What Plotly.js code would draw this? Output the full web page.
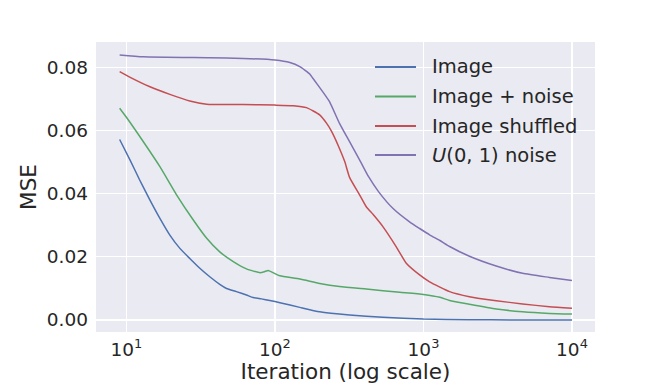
<!DOCTYPE html>
<html>
<head>
<meta charset="utf-8">
<script src="https://cdn.plot.ly/plotly-3.0.1.min.js"></script>
<style>html,body{margin:0;padding:0;background:#fff;}#chart{width:649px;height:390px;}</style>
</head>
<body>
<div id="chart"></div>
<script>
// Series names
const seriesNames = ["Image", "Image + noise", "Image shuffled", "<i>U</i>(0, 1) noise"];

// Image (blue)
const imageX = [9, 10.6, 12.3, 14.4, 16.8, 19.6, 22.9, 26.7, 31.2, 36.4, 42.5, 47.2, 55, 64.3, 71.3, 81, 92.3, 108, 147, 200, 318, 533, 1000, 2000, 4000, 10000];
const imageY = [0.0572, 0.0506, 0.0443, 0.0380, 0.0322, 0.0269, 0.0227, 0.0195, 0.0164, 0.0137, 0.0113, 0.0100, 0.0090, 0.0079, 0.0071, 0.0067, 0.0062, 0.0055, 0.0040, 0.0026, 0.0016, 0.0009, 0.0003, 0.0001, 0.0000, 0.0000];

// Image + noise (green)
const noiseX = [9, 10.3, 13, 16.8, 21.8, 28.2, 34.7, 42.5, 52.4, 64.3, 79.4, 85, 90, 100, 108, 147, 200, 272, 412, 692, 1000, 1290, 1500, 2040, 3090, 4650, 7050, 10000];
const noiseY = [0.0671, 0.0634, 0.0565, 0.0486, 0.0396, 0.0317, 0.0259, 0.0216, 0.0185, 0.0162, 0.0150, 0.0153, 0.0157, 0.0147, 0.0140, 0.0130, 0.0116, 0.0106, 0.0098, 0.0088, 0.0081, 0.0072, 0.0062, 0.0050, 0.0035, 0.0026, 0.0021, 0.0019];

// Image shuffled (red)
const shuffX = [9, 10.6, 14.4, 19.6, 26.7, 34.7, 61, 100, 133, 163, 200, 223, 241, 266, 295, 318, 372, 412, 457, 533, 656, 766, 942, 1100, 1500, 2040, 3090, 4650, 7050, 10000];
const shuffY = [0.0787, 0.0769, 0.0739, 0.0715, 0.0694, 0.0684, 0.0683, 0.0681, 0.0679, 0.0673, 0.0650, 0.0623, 0.0597, 0.0554, 0.0502, 0.0452, 0.0396, 0.0359, 0.0335, 0.0296, 0.0232, 0.0180, 0.0143, 0.0121, 0.0090, 0.0074, 0.0061, 0.0051, 0.0042, 0.0037];

// U(0,1) noise (purple)
const unifX = [9, 13, 36.4, 61, 100, 126, 147, 172, 180, 210, 233, 272, 318, 372, 427, 498, 622, 806, 942, 1100, 1290, 1500, 2040, 3090, 4650, 7050, 10000];
const unifY = [0.0840, 0.0834, 0.0831, 0.0829, 0.0824, 0.0816, 0.0803, 0.0779, 0.0766, 0.0723, 0.0692, 0.0623, 0.0565, 0.0507, 0.0454, 0.0407, 0.0354, 0.0311, 0.0290, 0.0270, 0.0252, 0.0233, 0.0202, 0.0171, 0.0148, 0.0135, 0.0125];

// Tick labels
const xTickVals = [10, 100, 1000, 10000];
const xTickText = ["10<sup>1</sup>", "10<sup>2</sup>", "10<sup>3</sup>", "10<sup>4</sup>"];
const yTickVals = [0, 0.02, 0.04, 0.06, 0.08];
const yTickText = ["0.00", "0.02", "0.04", "0.06", "0.08"];

const colors = ["#4C72B0", "#55A868", "#C44E52", "#8172B2"];
const xs = [imageX, noiseX, shuffX, unifX];
const ys = [imageY, noiseY, shuffY, unifY];

const traces = xs.map((x, i) => ({
  x: x, y: ys[i], name: seriesNames[i], type: "scatter", mode: "lines",
  line: {color: colors[i], width: 1.5, shape: "spline", smoothing: 0.5},
  showlegend: false
}));

const font = "DejaVu Sans, sans-serif";
const textColor = "#262626";

// Hand-drawn legend (matplotlib-style: long line sample, wide gap)
const legendRowsY = [0.9138, 0.8121, 0.7103, 0.6103];
const shapes = [];
const annotations = [];
seriesNames.forEach((name, i) => {
  shapes.push({type: "line", xref: "paper", yref: "paper",
    x0: 0.5591, x1: 0.6413, y0: legendRowsY[i], y1: legendRowsY[i],
    line: {color: colors[i], width: 1.8}});
  annotations.push({xref: "paper", yref: "paper", x: 0.6693, y: legendRowsY[i],
    xanchor: "left", yanchor: "middle", text: name, showarrow: false,
    font: {size: 19.5, family: font, color: textColor}});
});

const layout = {
  width: 649, height: 390,
  margin: {l: 96, r: 54, t: 42, b: 58},
  paper_bgcolor: "#ffffff",
  plot_bgcolor: "#EAEAF2",
  font: {family: font, color: textColor, size: 18},
  showlegend: false,
  shapes: shapes,
  annotations: annotations,
  xaxis: {
    type: "log", range: [0.795, 4.155],
    tickvals: xTickVals, ticktext: xTickText,
    showgrid: true, gridcolor: "#ffffff", gridwidth: 1.2,
    zeroline: false, showline: false, ticks: "",
    ticklabelstandoff: 4,
    tickfont: {size: 18.5, family: font, color: textColor},
    title: {text: "Iteration (log scale)", font: {size: 21.5, family: font, color: textColor}, standoff: 5}
  },
  yaxis: {
    range: [-0.0038, 0.0881],
    tickvals: yTickVals, ticktext: yTickText,
    showgrid: true, gridcolor: "#ffffff", gridwidth: 1.2,
    zeroline: false, showline: false, ticks: "",
    ticklabelstandoff: 7,
    tickfont: {size: 18.5, family: font, color: textColor},
    title: {text: "MSE", font: {size: 21.5, family: font, color: textColor}, standoff: 4}
  }
};

Plotly.newPlot("chart", traces, layout, {staticPlot: true, displayModeBar: false});
</script>
</body>
</html>
